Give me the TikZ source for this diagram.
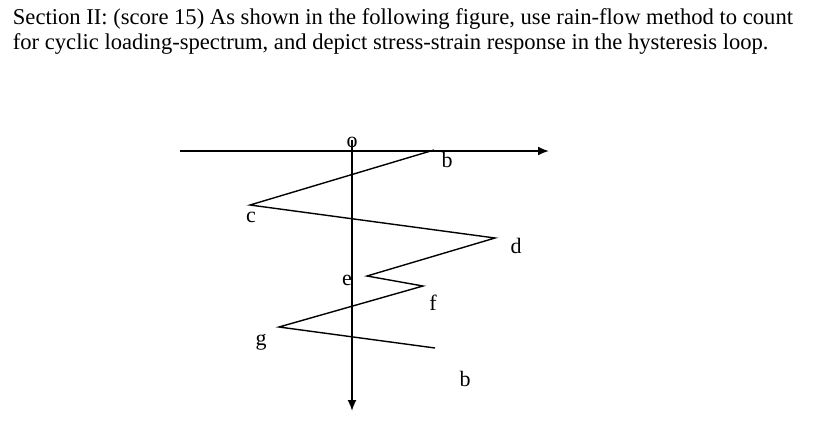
\documentclass[tikz,border=0pt]{standalone}
\usepackage{fontspec}
\setmainfont{Liberation Serif}
\usetikzlibrary{arrows.meta}
\begin{document}
\begin{tikzpicture}[x=1pt,y=-1pt,line width=1.8pt,
  lbl/.style={font=\fontsize{22}{26}\selectfont,inner sep=0pt},
  ttl/.style={font=\fontsize{22.6}{25}\selectfont,inner sep=0pt,anchor=north west,align=left}]
\useasboundingbox (0,0) rectangle (825,424);
\node[ttl] (title) at (12,8) {Section II: (score 15) As shown in the following figure, use rain-flow method to count\\for cyclic loading-spectrum, and depict stress-strain response in the hysteresis loop.};
\coordinate (hl) at (180,151);
\coordinate (hr) at (549,151);
\coordinate (vt) at (352,140);
\coordinate (vb) at (352,411);
\draw[-{Latex[length=11pt,width=9pt]}] (hl) -- (hr);
\draw[-{Latex[length=11pt,width=9pt]}] (vt) -- (vb);
\coordinate (pb) at (434,150);
\coordinate (pc) at (250,205);
\coordinate (pd) at (495,238);
\coordinate (pe) at (367,276);
\coordinate (pf) at (423,286);
\coordinate (pg) at (279,327);
\coordinate (ph) at (435,348);
\draw[line width=1.4pt] (pb) -- (pc) -- (pd) -- (pe) -- (pf) -- (pg) -- (ph);
\node[lbl] (lo) at (352,142) {o};
\node[lbl] (lb) at (447,160) {b};
\node[lbl] (lc) at (251,217) {c};
\node[lbl] (ld) at (516,246) {d};
\node[lbl] (le) at (347,280) {e};
\node[lbl] (lf) at (433,303) {f};
\node[lbl] (lg) at (261,342) {g};
\node[lbl] (lb2) at (465,379) {b};
\end{tikzpicture}
\end{document}
